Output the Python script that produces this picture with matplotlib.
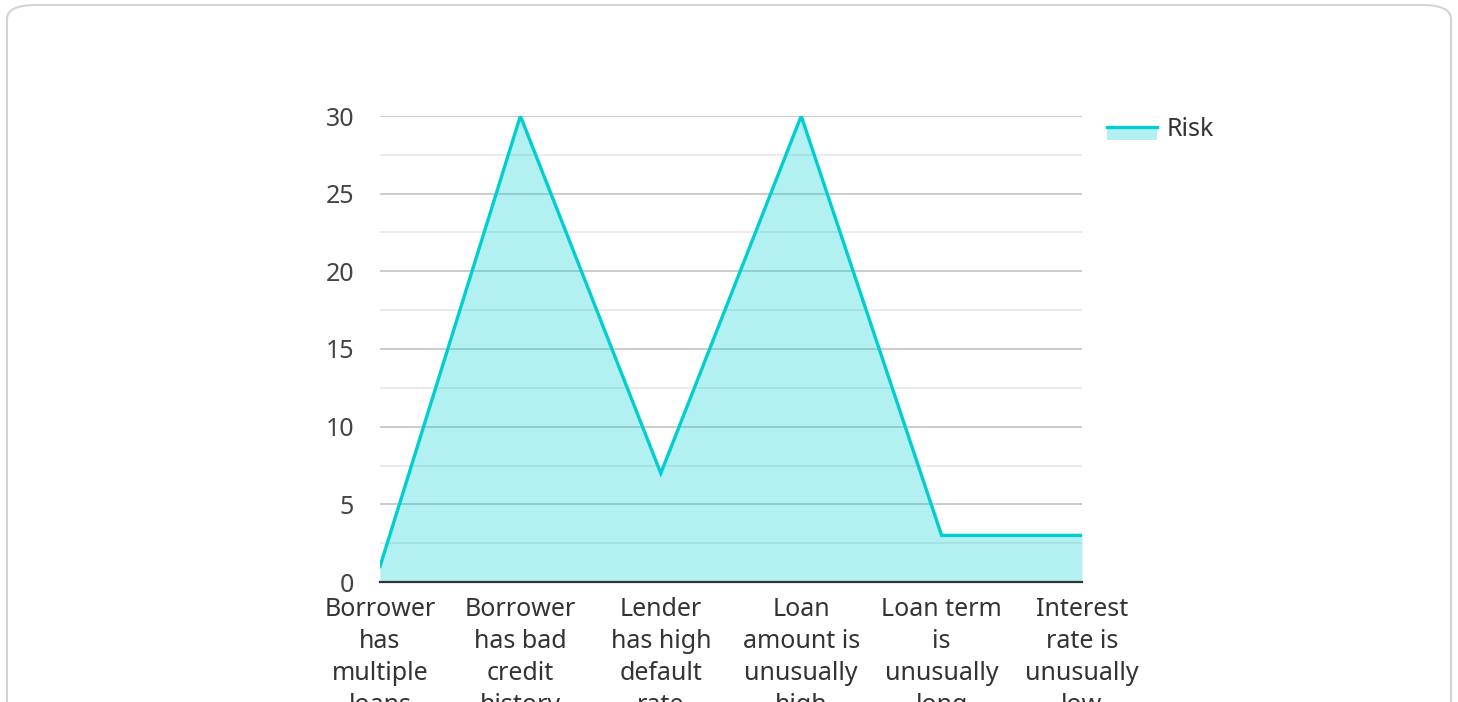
import matplotlib
matplotlib.use("Agg")
import matplotlib.pyplot as plt
from matplotlib.patches import FancyBboxPatch, Rectangle, Patch
from matplotlib.lines import Line2D

plt.rcParams['font.family'] = ['Noto Sans', 'DejaVu Sans']

categories = [
    "Borrower\nhas\nmultiple\nloans",
    "Borrower\nhas bad\ncredit\nhistory",
    "Lender\nhas high\ndefault\nrate",
    "Loan\namount is\nunusually\nhigh",
    "Loan term\nis\nunusually\nlong",
    "Interest\nrate is\nunusually\nlow",
]
risk = [1, 30, 7, 30, 3, 3]
yticks = [0, 5, 10, 15, 20, 25, 30]

LINE = "#00CED1"
W, H = 1458, 702
fig = plt.figure(figsize=(W / 100, H / 100), dpi=100)

# card outline
card = FancyBboxPatch((7 / W, -0.2), 1444 / W, 1.2 - 5 / H,
                      boxstyle="round,pad=0,rounding_size=0.02",
                      transform=fig.transFigure, facecolor="none",
                      edgecolor="#d4d4d4", linewidth=1.5, zorder=-1)
fig.patches.append(card)

ax = fig.add_axes([380 / W, 1 - 582 / H, 702 / W, 466 / H])
ax.set_facecolor("none")
x = list(range(len(risk)))
ax.fill_between(x, risk, 0, color=LINE, alpha=0.3, linewidth=0, zorder=2)
ax.plot(x, risk, color=LINE, lw=2.4, zorder=3, solid_joinstyle="miter")

ax.set_xlim(0, len(risk) - 1)
ax.set_ylim(0, 30)
ax.set_yticks(yticks)
ax.set_yticks([2.5, 7.5, 12.5, 17.5, 22.5, 27.5], minor=True)
ax.grid(axis="y", which="major", color="#c4c4c4", lw=1.2, zorder=1)
ax.grid(axis="y", which="minor", color="#e8e8e8", lw=1.2, zorder=1)
ax.set_xticks(x)
ax.set_xticklabels(categories, linespacing=1.37)
ax.tick_params(axis="both", which="both", length=0, labelsize=18)
ax.tick_params(axis="y", pad=18.5, labelcolor="#444444")
ax.tick_params(axis="x", pad=10.5, labelcolor="#333333")
for s in ("left", "right", "top"):
    ax.spines[s].set_visible(False)
ax.spines["bottom"].set_color("#333333")
ax.spines["bottom"].set_linewidth(1.6)
ax.spines["bottom"].set_zorder(4)


class AreaHandler:
    def legend_artist(self, legend, orig, fontsize, handlebox):
        x0, y0 = handlebox.xdescent, handlebox.ydescent
        w, h = handlebox.width, handlebox.height
        tr = handlebox.get_transform()
        rect = Rectangle((x0, y0 - 0.25 * h), w, 0.8 * h, facecolor=LINE,
                         alpha=0.3, edgecolor="none", transform=tr)
        ln = Line2D([x0, x0 + w], [y0 + 0.5 * h, y0 + 0.5 * h], color=LINE,
                    lw=2.4, transform=tr)
        handlebox.add_artist(rect)
        handlebox.add_artist(ln)
        return rect


proxy = Patch(facecolor=LINE)
leg = fig.legend([proxy], ["Risk"], loc="upper left",
                 bbox_to_anchor=(1084 / W, 1 - 94 / H), frameon=False,
                 fontsize=18, handlelength=2.0, handletextpad=0.4,
                 handler_map={Patch: AreaHandler()},
                 labelcolor="#333333")

fig.savefig("out.png", dpi=100)
